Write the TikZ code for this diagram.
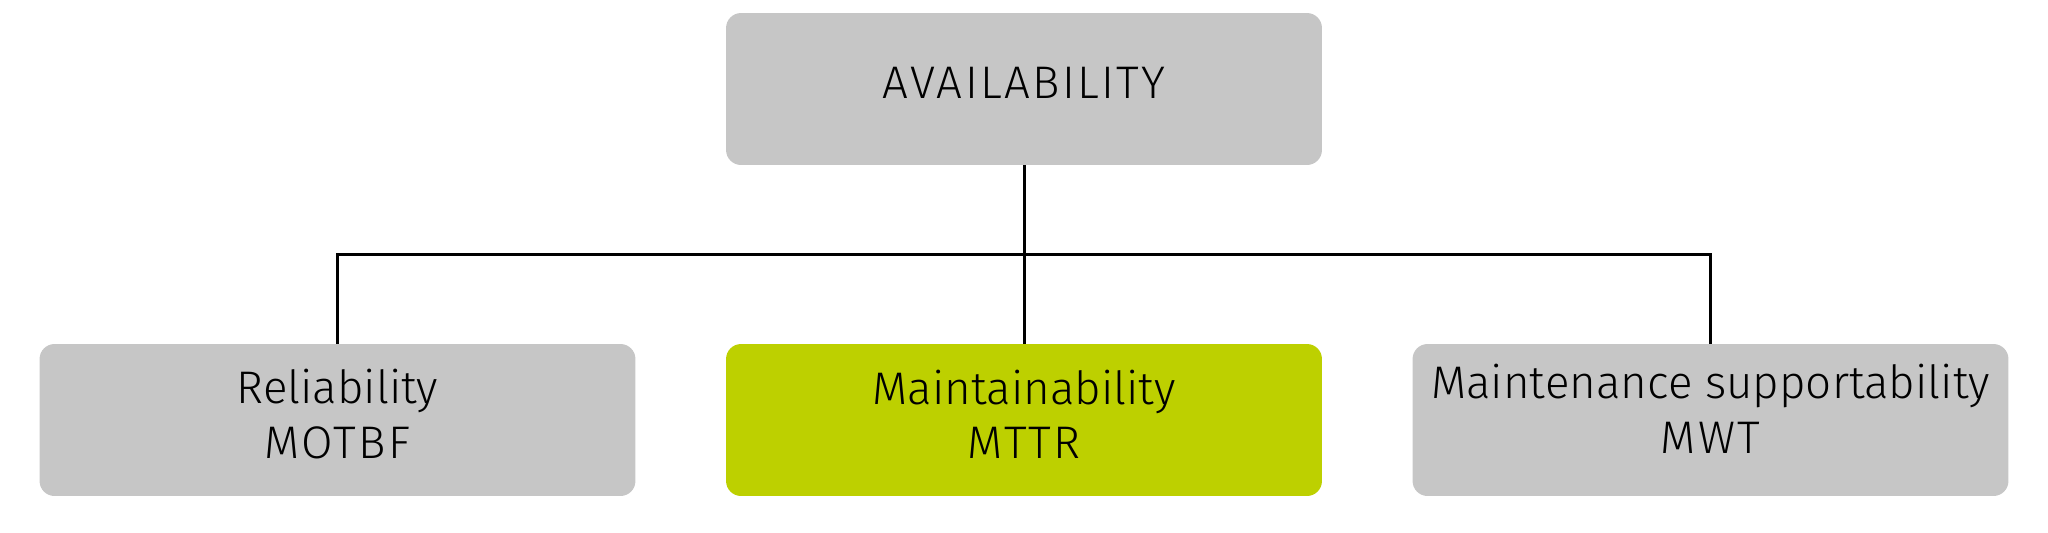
\documentclass[tikz,border=0pt]{standalone}
\usepackage{fontspec}
\setmainfont{Fira Sans}[UprightFont=* Light]
\definecolor{boxgray}{RGB}{198,198,198}
\definecolor{boxgreen}{RGB}{189,208,0}
\begin{document}
\begin{tikzpicture}[x=0.02cm,y=-0.02cm,
  box/.style={fill=boxgray, draw=none, rounded corners=0.3cm, minimum width=11.92cm, minimum height=3.04cm, inner sep=0pt},
  lbl/.style={anchor=base, inner sep=0pt, font=\fontsize{26}{30}\selectfont},
  caps/.style={lbl, font=\fontsize{26}{30}\selectfont\addfontfeatures{LetterSpace=5}},
  conn/.style={line width=1.7pt, black}]
\useasboundingbox (0,0) rectangle (2048,532);
\node[box] (top) at (1024,89) {};
\node[box] (left) at (337.5,420) {};
\node[box, fill=boxgreen] (mid) at (1024,420) {};
\node[box] (right) at (1710.5,420) {};
\coordinate (bus) at (0,254);
\draw[conn] (top.south) -- (mid.north);
\draw[conn] (left.north) -- (left.north |- bus) -- (right.north |- bus) -- (right.north);
\node[caps] (t1) at (1024,98) {AVAILABILITY};
\node[lbl] (l1) at (337.5,403) {Reliability};
\node[caps] (l2) at (337.5,458) {MOTBF};
\node[lbl] (m1) at (1024,404) {Maintainability};
\node[caps] (m2) at (1024,458) {MTTR};
\node[lbl] (r1) at (1710.5,398) {Maintenance supportability};
\node[caps] (r2) at (1710.5,453) {MWT};
\end{tikzpicture}
\end{document}
